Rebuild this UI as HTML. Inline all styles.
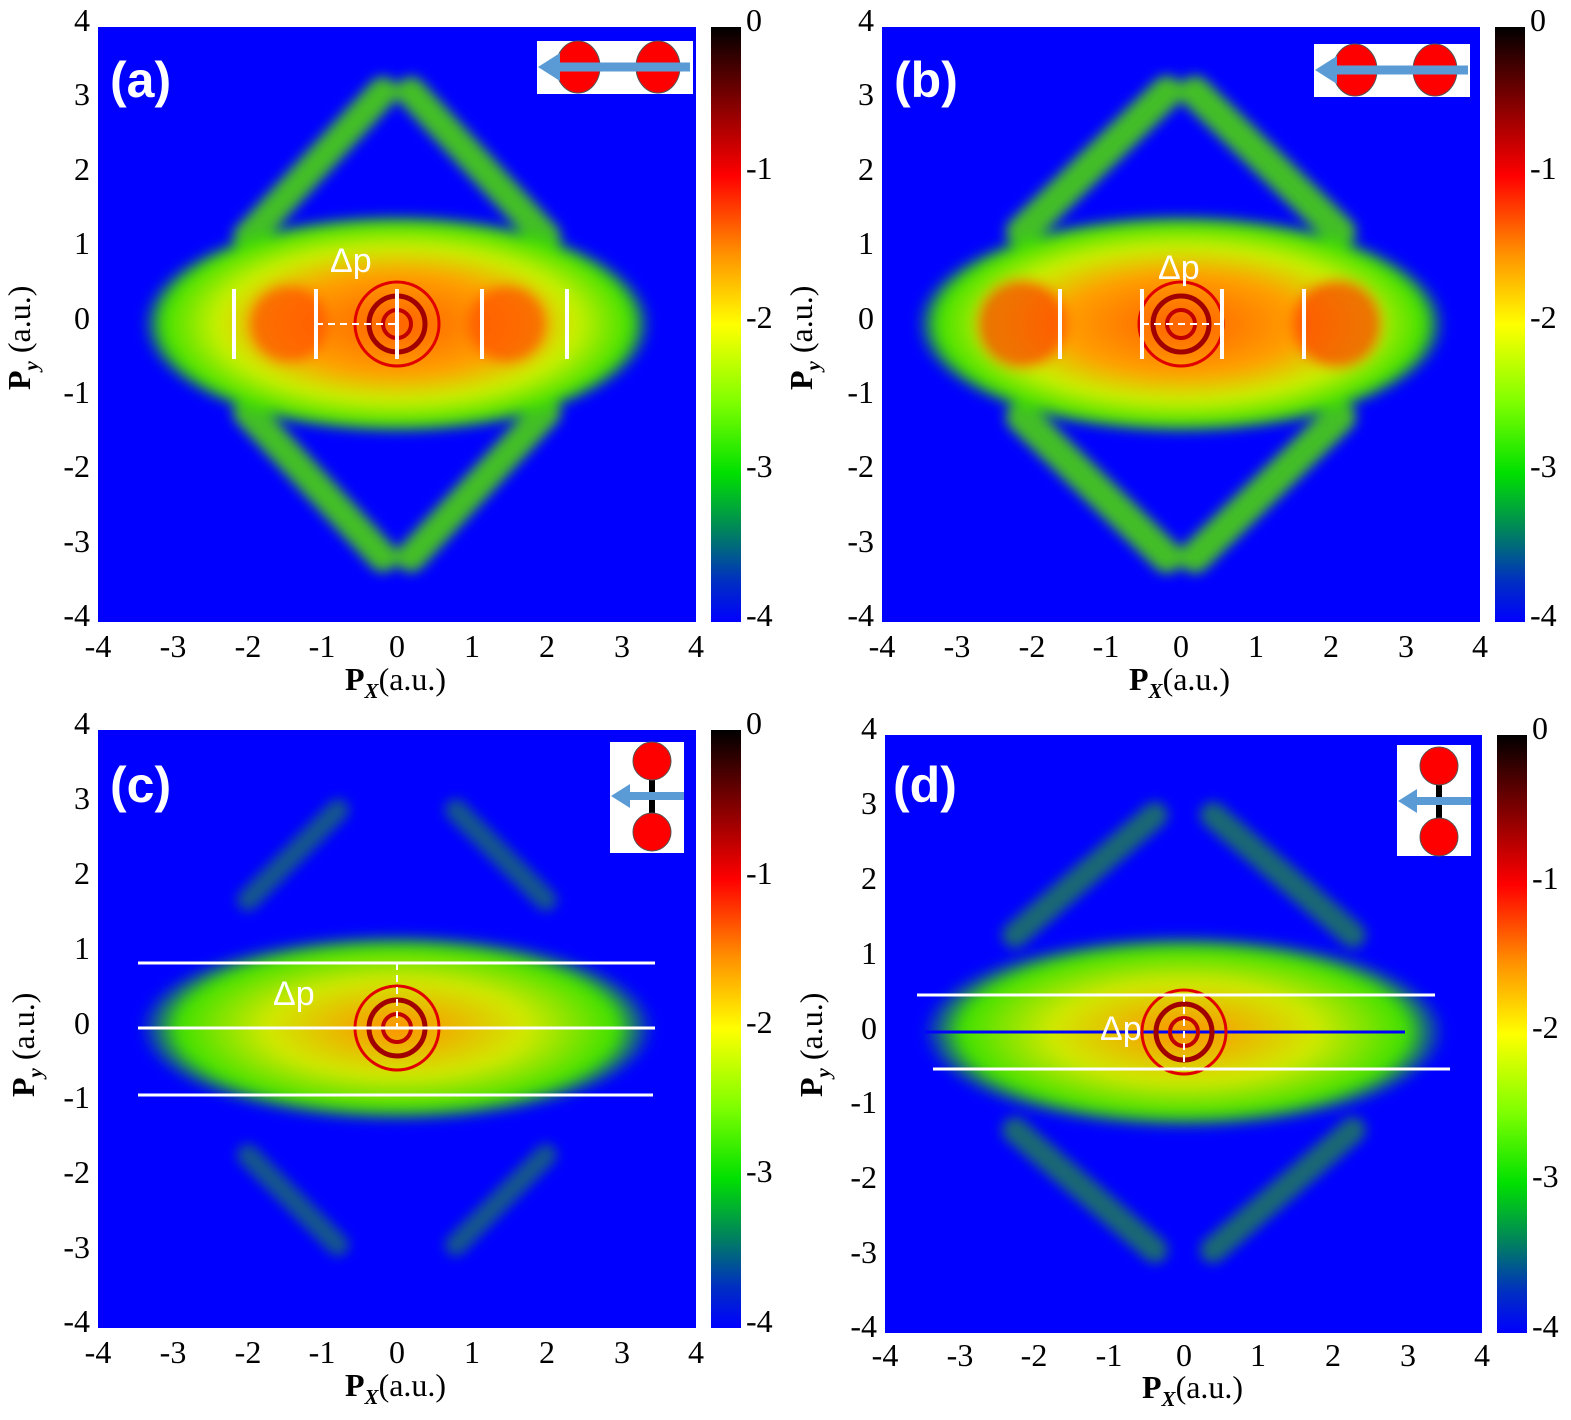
<!DOCTYPE html>
<html><head><meta charset="utf-8"><style>
html,body{margin:0;padding:0;background:#fff}
.s{font-family:"Liberation Serif","Times New Roman",Times,serif}
</style></head><body>
<svg width="1571" height="1415" viewBox="0 0 1571 1415" xmlns="http://www.w3.org/2000/svg">
<defs>
<linearGradient id="cb" x1="0" y1="0" x2="0" y2="1">
<stop offset="0" stop-color="#000"/><stop offset="0.12" stop-color="#7a0000"/>
<stop offset="0.25" stop-color="#ff0000"/><stop offset="0.38" stop-color="#ff9000"/>
<stop offset="0.5" stop-color="#ffff00"/><stop offset="0.63" stop-color="#80ff00"/>
<stop offset="0.75" stop-color="#00e000"/><stop offset="0.85" stop-color="#008060"/>
<stop offset="0.93" stop-color="#0030c0"/><stop offset="1" stop-color="#0000ff"/>
</linearGradient>
<radialGradient id="eg">
<stop offset="0" stop-color="#ff6000"/><stop offset="0.45" stop-color="#ffa000"/>
<stop offset="0.7" stop-color="#c8f000"/><stop offset="0.92" stop-color="#40e000"/><stop offset="1" stop-color="#20d000" stop-opacity="0"/>
</radialGradient>
<radialGradient id="eg2">
<stop offset="0" stop-color="#ff9000"/><stop offset="0.5" stop-color="#d0e800"/>
<stop offset="0.85" stop-color="#40e000"/><stop offset="1" stop-color="#20d000" stop-opacity="0"/>
</radialGradient>
<filter id="bl"><feGaussianBlur stdDeviation="6"/></filter>
<g id="ringC">
<circle r="28" fill="none" stroke="#a00000" stroke-width="5"/>
<circle r="14" fill="none" stroke="#c00000" stroke-width="4"/>
<circle r="42" fill="none" stroke="#e00000" stroke-width="3"/>
</g>
</defs>

<g transform="translate(98,27)">
<rect width="598" height="595" fill="#0000ff"/>
<g filter="url(#bl)">
<g stroke="#50e000" stroke-width="30" stroke-linecap="round" opacity="0.85">
<line x1="285" y1="65" x2="150" y2="210"/><line x1="313" y1="65" x2="448" y2="210"/>
<line x1="285" y1="530" x2="150" y2="385"/><line x1="313" y1="530" x2="448" y2="385"/>
</g>
<ellipse cx="299" cy="297" rx="255" ry="110" fill="url(#eg)"/>
<ellipse cx="190" cy="297" rx="40" ry="40" fill="#ff5000" opacity="0.7"/>
<ellipse cx="410" cy="297" rx="40" ry="40" fill="#ff5000" opacity="0.7"/>
</g>
<use href="#ringC" x="299" y="297"/>
<g stroke="#fff" stroke-width="4">
<line x1="136" y1="262" x2="136" y2="332"/><line x1="218" y1="262" x2="218" y2="332"/>
<line x1="299" y1="262" x2="299" y2="332"/><line x1="384" y1="262" x2="384" y2="332"/>
<line x1="469" y1="262" x2="469" y2="332"/>
</g>
<line x1="218" y1="297" x2="299" y2="297" stroke="#fff" stroke-width="2" stroke-dasharray="7,5"/>
<text x="232" y="245" font-family="Liberation Sans, sans-serif" font-size="34" fill="#fff">Δp</text>
<text x="12" y="70" font-family="Liberation Sans, sans-serif" font-size="50" font-weight="bold" fill="#fff">(a)</text>
<rect x="439" y="14" width="156" height="53" fill="#fff"/>
<ellipse cx="480" cy="40" rx="22" ry="26" fill="#ff0000" stroke="#555"/>
<ellipse cx="560" cy="40" rx="22" ry="26" fill="#ff0000" stroke="#555"/>
<line x1="455" y1="40" x2="592" y2="40" stroke="#5b9bd5" stroke-width="9"/>
<polygon points="440,40 462,26 462,54" fill="#5b9bd5"/>
</g>

<g transform="translate(882,27)">
<rect width="598" height="595" fill="#0000ff"/>
<g filter="url(#bl)">
<g stroke="#50e000" stroke-width="32" stroke-linecap="round" opacity="0.85">
<line x1="285" y1="65" x2="140" y2="205"/><line x1="313" y1="65" x2="458" y2="205"/>
<line x1="285" y1="530" x2="140" y2="390"/><line x1="313" y1="530" x2="458" y2="390"/>
</g>
<ellipse cx="299" cy="297" rx="265" ry="110" fill="url(#eg)"/>
<ellipse cx="140" cy="297" rx="45" ry="45" fill="#ff4000" opacity="0.7"/>
<ellipse cx="455" cy="297" rx="45" ry="45" fill="#ff4000" opacity="0.7"/>
</g>
<use href="#ringC" x="299" y="297"/>
<g stroke="#fff" stroke-width="4">
<line x1="178" y1="262" x2="178" y2="332"/><line x1="260" y1="262" x2="260" y2="332"/>
<line x1="340" y1="262" x2="340" y2="332"/><line x1="422" y1="262" x2="422" y2="332"/>
</g>
<line x1="260" y1="297" x2="340" y2="297" stroke="#fff" stroke-width="2" stroke-dasharray="7,5"/>
<text x="276" y="252" font-family="Liberation Sans, sans-serif" font-size="34" fill="#fff">Δp</text>
<text x="12" y="70" font-family="Liberation Sans, sans-serif" font-size="50" font-weight="bold" fill="#fff">(b)</text>
<rect x="432" y="17" width="156" height="53" fill="#fff"/>
<ellipse cx="473" cy="43" rx="22" ry="26" fill="#ff0000" stroke="#555"/>
<ellipse cx="553" cy="43" rx="22" ry="26" fill="#ff0000" stroke="#555"/>
<line x1="448" y1="43" x2="586" y2="43" stroke="#5b9bd5" stroke-width="9"/>
<polygon points="433,43 455,29 455,57" fill="#5b9bd5"/>
</g>

<g transform="translate(98,730)">
<rect width="598" height="598" fill="#0000ff"/>
<g filter="url(#bl)">
<g stroke="#30c000" stroke-width="22" stroke-linecap="round" opacity="0.45">
<line x1="240" y1="80" x2="150" y2="170"/><line x1="358" y1="80" x2="448" y2="170"/>
<line x1="240" y1="515" x2="150" y2="425"/><line x1="358" y1="515" x2="448" y2="425"/>
</g>
<ellipse cx="299" cy="298" rx="258" ry="95" fill="url(#eg2)"/>
</g>
<use href="#ringC" x="299" y="298"/>
<g stroke="#fff" stroke-width="3">
<line x1="40" y1="233" x2="557" y2="233"/><line x1="40" y1="298" x2="557" y2="298"/><line x1="40" y1="365" x2="555" y2="365"/>
</g>
<line x1="299" y1="233" x2="299" y2="298" stroke="#fff" stroke-width="2" stroke-dasharray="7,5"/>
<text x="175" y="275" font-family="Liberation Sans, sans-serif" font-size="34" fill="#fff">Δp</text>
<text x="12" y="72" font-family="Liberation Sans, sans-serif" font-size="50" font-weight="bold" fill="#fff">(c)</text>
<rect x="512" y="12" width="74" height="111" fill="#fff"/>
<line x1="554" y1="25" x2="554" y2="105" stroke="#000" stroke-width="6"/>
<circle cx="554" cy="31" r="19" fill="#ff0000" stroke="#555"/>
<circle cx="554" cy="102" r="19" fill="#ff0000" stroke="#555"/>
<line x1="528" y1="66" x2="586" y2="66" stroke="#5b9bd5" stroke-width="8"/>
<polygon points="513,66 532,54 532,78" fill="#5b9bd5"/>
</g>

<g transform="translate(885,735)">
<rect width="597" height="598" fill="#0000ff"/>
<g filter="url(#bl)">
<g stroke="#30c000" stroke-width="26" stroke-linecap="round" opacity="0.55">
<line x1="270" y1="80" x2="130" y2="200"/><line x1="328" y1="80" x2="468" y2="200"/>
<line x1="270" y1="515" x2="130" y2="395"/><line x1="328" y1="515" x2="468" y2="395"/>
</g>
<ellipse cx="299" cy="297" rx="262" ry="98" fill="url(#eg2)"/>
</g>
<line x1="40" y1="297" x2="520" y2="297" stroke="#0000ff" stroke-width="3"/>
<use href="#ringC" x="299" y="297"/>
<g stroke="#fff" stroke-width="3">
<line x1="32" y1="260" x2="550" y2="260"/><line x1="48" y1="334" x2="565" y2="334"/>
</g>
<line x1="299" y1="260" x2="299" y2="334" stroke="#fff" stroke-width="2" stroke-dasharray="7,5"/>
<text x="215" y="305" font-family="Liberation Sans, sans-serif" font-size="34" fill="#fff">Δp</text>
<text x="8" y="67" font-family="Liberation Sans, sans-serif" font-size="50" font-weight="bold" fill="#fff">(d)</text>
<rect x="512" y="10" width="74" height="111" fill="#fff"/>
<line x1="554" y1="25" x2="554" y2="105" stroke="#000" stroke-width="6"/>
<circle cx="554" cy="31" r="19" fill="#ff0000" stroke="#555"/>
<circle cx="554" cy="102" r="19" fill="#ff0000" stroke="#555"/>
<line x1="528" y1="66" x2="586" y2="66" stroke="#5b9bd5" stroke-width="8"/>
<polygon points="513,66 532,54 532,78" fill="#5b9bd5"/>
</g>

<rect x="711" y="27" width="30" height="595" fill="url(#cb)"/>
<rect x="1495" y="27" width="30" height="595" fill="url(#cb)"/>
<rect x="711" y="730" width="30" height="598" fill="url(#cb)"/>
<rect x="1497" y="735" width="30" height="598" fill="url(#cb)"/>

<g class="s" font-size="32" fill="#000">
<text x="746" y="31">0</text><text x="746" y="179">-1</text><text x="746" y="328">-2</text><text x="746" y="477">-3</text><text x="746" y="626">-4</text>
<text x="1530" y="31">0</text><text x="1530" y="179">-1</text><text x="1530" y="328">-2</text><text x="1530" y="477">-3</text><text x="1530" y="626">-4</text>
<text x="746" y="734">0</text><text x="746" y="884">-1</text><text x="746" y="1033">-2</text><text x="746" y="1182">-3</text><text x="746" y="1332">-4</text>
<text x="1532" y="739">0</text><text x="1532" y="889">-1</text><text x="1532" y="1038">-2</text><text x="1532" y="1187">-3</text><text x="1532" y="1337">-4</text>
</g>

<g class="s" font-size="32" fill="#000" text-anchor="middle">
<text x="98" y="657">-4</text><text x="173" y="657">-3</text><text x="248" y="657">-2</text><text x="322" y="657">-1</text><text x="397" y="657">0</text><text x="472" y="657">1</text><text x="547" y="657">2</text><text x="622" y="657">3</text><text x="696" y="657">4</text>
<text x="882" y="657">-4</text><text x="957" y="657">-3</text><text x="1032" y="657">-2</text><text x="1106" y="657">-1</text><text x="1181" y="657">0</text><text x="1256" y="657">1</text><text x="1331" y="657">2</text><text x="1406" y="657">3</text><text x="1480" y="657">4</text>
<text x="98" y="1363">-4</text><text x="173" y="1363">-3</text><text x="248" y="1363">-2</text><text x="322" y="1363">-1</text><text x="397" y="1363">0</text><text x="472" y="1363">1</text><text x="547" y="1363">2</text><text x="622" y="1363">3</text><text x="696" y="1363">4</text>
<text x="885" y="1366">-4</text><text x="960" y="1366">-3</text><text x="1034" y="1366">-2</text><text x="1109" y="1366">-1</text><text x="1184" y="1366">0</text><text x="1258" y="1366">1</text><text x="1333" y="1366">2</text><text x="1408" y="1366">3</text><text x="1482" y="1366">4</text>
</g>
<g class="s" font-size="32" fill="#000" text-anchor="end">
<text x="90" y="31">4</text><text x="90" y="105">3</text><text x="90" y="180">2</text><text x="90" y="254">1</text><text x="90" y="329">0</text><text x="90" y="403">-1</text><text x="90" y="477">-2</text><text x="90" y="552">-3</text><text x="90" y="626">-4</text>
<text x="874" y="31">4</text><text x="874" y="105">3</text><text x="874" y="180">2</text><text x="874" y="254">1</text><text x="874" y="329">0</text><text x="874" y="403">-1</text><text x="874" y="477">-2</text><text x="874" y="552">-3</text><text x="874" y="626">-4</text>
<text x="90" y="734">4</text><text x="90" y="809">3</text><text x="90" y="884">2</text><text x="90" y="959">1</text><text x="90" y="1034">0</text><text x="90" y="1108">-1</text><text x="90" y="1183">-2</text><text x="90" y="1258">-3</text><text x="90" y="1332">-4</text>
<text x="877" y="739">4</text><text x="877" y="814">3</text><text x="877" y="889">2</text><text x="877" y="964">1</text><text x="877" y="1039">0</text><text x="877" y="1113">-1</text><text x="877" y="1188">-2</text><text x="877" y="1263">-3</text><text x="877" y="1337">-4</text>
</g>

<g class="s" font-size="32" fill="#000">
<text x="345" y="690" font-weight="bold">P<tspan font-style="italic" font-size="21" dy="8">X</tspan><tspan font-weight="normal" dy="-8">(a.u.)</tspan></text>
<text x="1129" y="690" font-weight="bold">P<tspan font-style="italic" font-size="21" dy="8">X</tspan><tspan font-weight="normal" dy="-8">(a.u.)</tspan></text>
<text x="345" y="1396" font-weight="bold">P<tspan font-style="italic" font-size="21" dy="8">X</tspan><tspan font-weight="normal" dy="-8">(a.u.)</tspan></text>
<text x="1142" y="1398" font-weight="bold">P<tspan font-style="italic" font-size="21" dy="8">X</tspan><tspan font-weight="normal" dy="-8">(a.u.)</tspan></text>
<text font-weight="bold" transform="translate(30,390) rotate(-90)">P<tspan font-style="italic" font-size="21" dy="8">y</tspan><tspan font-weight="normal" dy="-8"> (a.u.)</tspan></text>
<text font-weight="bold" transform="translate(812,390) rotate(-90)">P<tspan font-style="italic" font-size="21" dy="8">y</tspan><tspan font-weight="normal" dy="-8"> (a.u.)</tspan></text>
<text font-weight="bold" transform="translate(34,1097) rotate(-90)">P<tspan font-style="italic" font-size="21" dy="8">y</tspan><tspan font-weight="normal" dy="-8"> (a.u.)</tspan></text>
<text font-weight="bold" transform="translate(822,1097) rotate(-90)">P<tspan font-style="italic" font-size="21" dy="8">y</tspan><tspan font-weight="normal" dy="-8"> (a.u.)</tspan></text>
</g>
</svg>
</body></html>
